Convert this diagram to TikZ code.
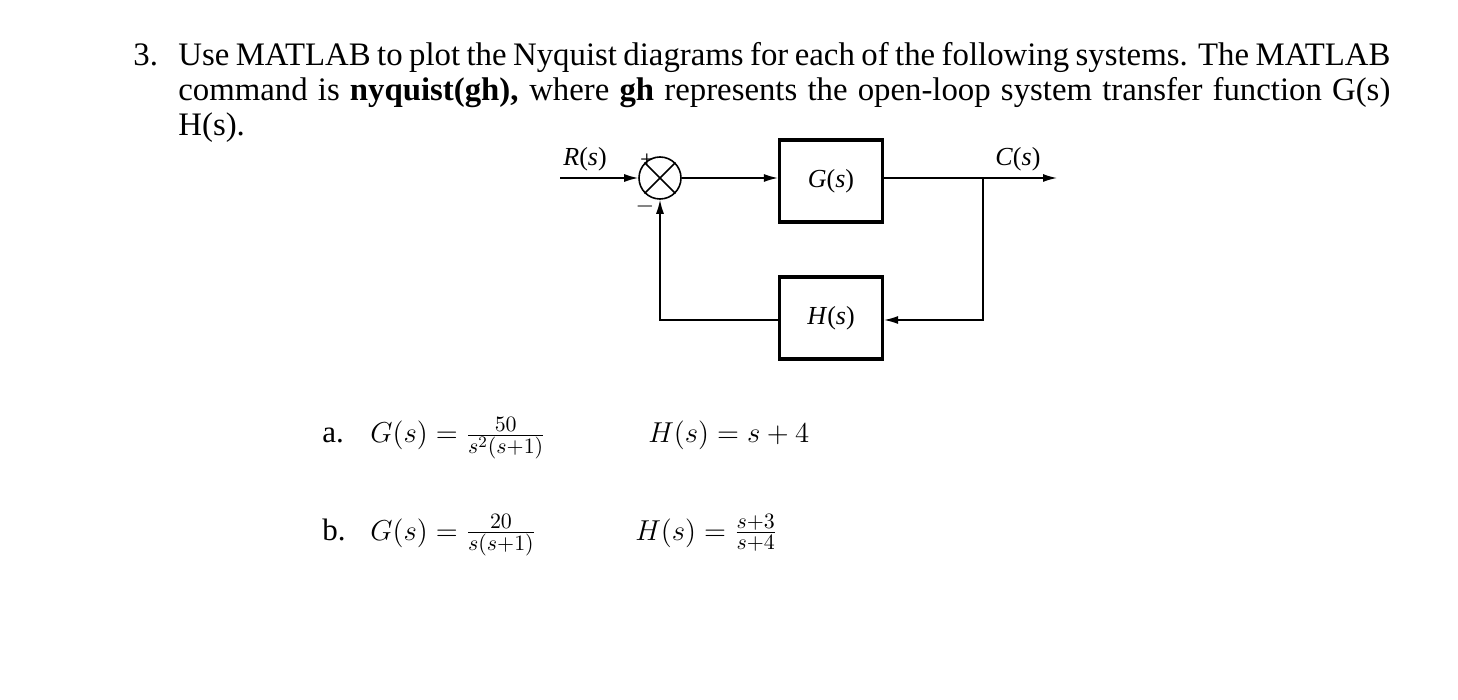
\documentclass[tikz,border=0pt]{standalone}
\usepackage{fontspec}
\setmainfont{Liberation Serif}
\usetikzlibrary{arrows.meta}
\begin{document}
\begin{tikzpicture}[x=0.5pt,y=-0.5pt,
  blk/.style={draw,line width=1.6pt,minimum width=51.5pt,minimum height=41pt,inner sep=0pt,font=\fontsize{13}{15}\selectfont},
  sig/.style={line width=0.7pt,-{Latex[length=7pt,width=4pt]}},
  ln/.style={line width=0.7pt},
  eq/.style={font=\fontsize{15.5}{18}\selectfont,anchor=base west,inner sep=0pt}]
\useasboundingbox (0,0) rectangle (1458,700);
\node[anchor=north west,inner sep=0pt,font=\fontsize{16.4}{17.5}\selectfont] (txt) at (133,42)
 {\makebox[22.5pt][l]{3.}\parbox[t]{606pt}{\hyphenpenalty=10000\exhyphenpenalty=10000 Use MATLAB to plot the Nyquist diagrams for each of the following systems. The MATLAB command is \textbf{nyquist(gh),} where \textbf{gh} represents the open-loop system transfer function G(s)\linebreak H(s).}};
\node[draw,circle,line width=0.8pt,minimum size=21pt,inner sep=0pt] (sum) at (660,178) {};
\draw[line width=0.8pt] (sum.north west) -- (sum.south east) (sum.north east) -- (sum.south west);
\node[blk] (G) at (831,181) {\textit{G}(\textit{s})};
\node[blk] (H) at (831,318) {\textit{H}(\textit{s})};
\coordinate (in) at (560,178);
\coordinate (br) at (983,178);
\coordinate (out) at (1057,178);
\coordinate (fb) at (659,320);
\draw[sig] (in) -- (sum);
\draw[sig] (sum) -- (G.west|-sum);
\draw[ln] (G.east|-sum) -- (br);
\draw[sig] (br) -- (out);
\draw[sig] (br) |- (H.east|-fb);
\draw[sig] (H.west|-fb) -| (sum);
\node[font=\fontsize{13}{15}\selectfont,anchor=base west,inner sep=0pt] (R) at (563,166) {\textit{R}(\textit{s})};
\node[font=\fontsize{12}{14}\selectfont,inner sep=0pt] (plus) at (647,161) {+};
\node[font=\fontsize{12}{14}\selectfont,inner sep=0pt] (minus) at (645,207) {$-$};
\node[font=\fontsize{13}{15}\selectfont,anchor=base west,inner sep=0pt] (C) at (995,166) {\textit{C}(\textit{s})};
\node[eq] (a) at (322,443) {a.};
\node[eq] (Ga) at (370,443) {$G(s)=\frac{50}{s^2(s+1)}$};
\node[eq] (Ha) at (648,443) {$H(s)=s+4$};
\node[eq] (b) at (322,540) {b.};
\node[eq] (Gb) at (370,540) {$G(s)=\frac{20}{s(s+1)}$};
\node[eq] (Hb) at (635,540) {$H(s)=\frac{s+3}{s+4}$};
\end{tikzpicture}
\end{document}
